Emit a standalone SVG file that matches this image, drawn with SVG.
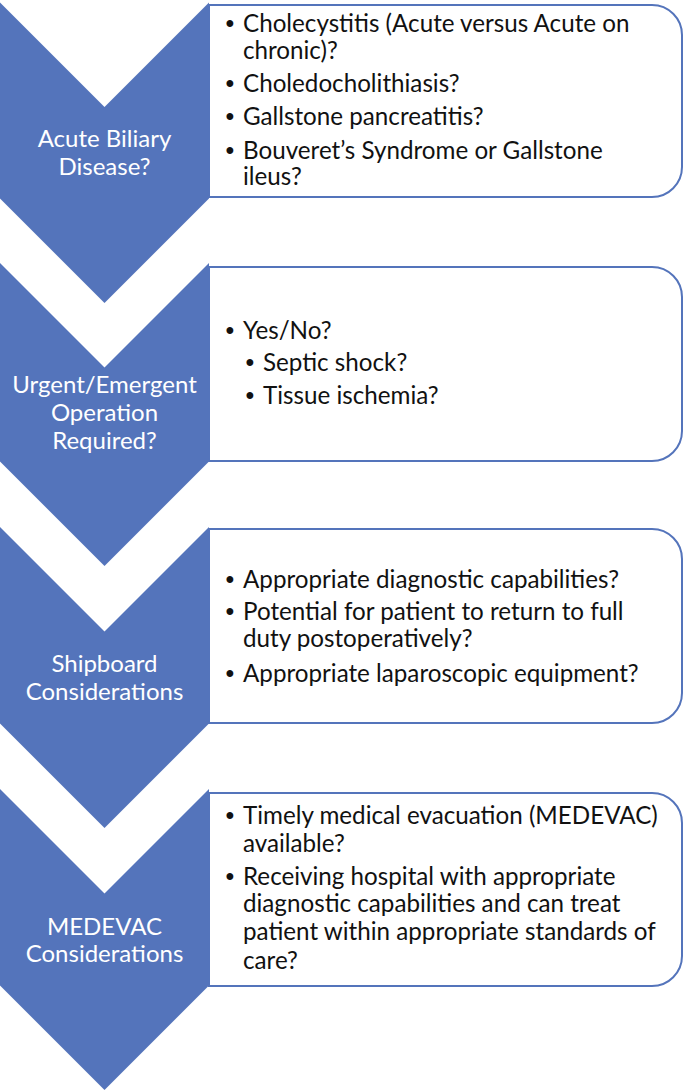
<svg xmlns="http://www.w3.org/2000/svg" width="685" height="1091" viewBox="0 0 685 1091">
<style>
.chev{fill:#5474BB}
.box{fill:#fff;stroke:#5474BB;stroke-width:2}
.lbl{font-family:Lato,"Liberation Sans",sans-serif;font-size:24px;fill:#fff;text-anchor:middle}
.txt{font-family:Lato,"Liberation Sans",sans-serif;font-size:24.2px;fill:#111}
.bul{font-family:"Liberation Sans",sans-serif;font-size:25px;fill:#111;text-anchor:middle}
</style>
<rect width="685" height="1091" fill="#fff"/>
<g id="connectors"></g>

<g id="step1">
<path class="chev" d="M0,2.5 L104.5,107 L209,2.5 L209,198.5 L104.5,303 L0,198.5 Z"/>
<text class="lbl" x="104.5" y="147">Acute Biliary</text>
<text class="lbl" x="104.5" y="175">Disease?</text>
</g>
<g id="details1">
<path class="box" d="M209,5 H652 A30,30 0 0 1 682,35 V167 A30,30 0 0 1 652,197 H209 Z"/>
<text class="bul" x="230" y="32">•</text>
<text class="txt" x="243" y="32">Cholecystitis (Acute versus Acute on</text>
<text class="txt" x="243" y="58.5">chronic)?</text>
<text class="bul" x="230" y="92">•</text>
<text class="txt" x="243" y="92">Choledocholithiasis?</text>
<text class="bul" x="230" y="125">•</text>
<text class="txt" x="243" y="125">Gallstone pancreatitis?</text>
<text class="bul" x="230" y="158.5">•</text>
<text class="txt" x="243" y="158.5">Bouveret’s Syndrome or Gallstone</text>
<text class="txt" x="243" y="185">ileus?</text>
</g>

<g id="step2">
<path class="chev" d="M0,263 L104.5,367.5 L209,263 L209,461.5 L104.5,566 L0,461.5 Z"/>
<text class="lbl" x="104.5" y="393">Urgent/Emergent</text>
<text class="lbl" x="104.5" y="421">Operation</text>
<text class="lbl" x="104.5" y="449">Required?</text>
</g>
<g id="details2">
<path class="box" d="M209,267 H652 A30,30 0 0 1 682,297 V431 A30,30 0 0 1 652,461 H209 Z"/>
<text class="bul" x="230" y="338.5">•</text>
<text class="txt" x="243" y="338.5">Yes/No?</text>
<text class="bul" x="250" y="371">•</text>
<text class="txt" x="263" y="371">Septic shock?</text>
<text class="bul" x="250" y="404">•</text>
<text class="txt" x="263" y="404">Tissue ischemia?</text>
</g>

<g id="step3">
<path class="chev" d="M0,527 L104.5,631.5 L209,527 L209,723.5 L104.5,828 L0,723.5 Z"/>
<text class="lbl" x="104.5" y="672">Shipboard</text>
<text class="lbl" x="104.5" y="699.5">Considerations</text>
</g>
<g id="details3">
<path class="box" d="M209,529 H652 A30,30 0 0 1 682,559 V693 A30,30 0 0 1 652,723 H209 Z"/>
<text class="bul" x="230" y="587.5">•</text>
<text class="txt" x="243" y="587.5">Appropriate diagnostic capabilities?</text>
<text class="bul" x="230" y="620">•</text>
<text class="txt" x="243" y="620">Potential for patient to return to full</text>
<text class="txt" x="243" y="647">duty postoperatively?</text>
<text class="bul" x="230" y="682">•</text>
<text class="txt" x="243" y="682">Appropriate laparoscopic equipment?</text>
</g>

<g id="step4">
<path class="chev" d="M0,789 L104.5,893.5 L209,789 L209,985.5 L104.5,1090 L0,985.5 Z"/>
<text class="lbl" x="104.5" y="935">MEDEVAC</text>
<text class="lbl" x="104.5" y="962">Considerations</text>
</g>
<g id="details4">
<path class="box" d="M209,793 H652 A30,30 0 0 1 682,823 V956 A30,30 0 0 1 652,986 H209 Z"/>
<text class="bul" x="230" y="823.5">•</text>
<text class="txt" x="243" y="823.5">Timely medical evacuation (MEDEVAC)</text>
<text class="txt" x="243" y="852">available?</text>
<text class="bul" x="230" y="885">•</text>
<text class="txt" x="243" y="885">Receiving hospital with appropriate</text>
<text class="txt" x="243" y="912">diagnostic capabilities and can treat</text>
<text class="txt" x="243" y="940">patient within appropriate standards of</text>
<text class="txt" x="243" y="968.5">care?</text>
</g>
</svg>
